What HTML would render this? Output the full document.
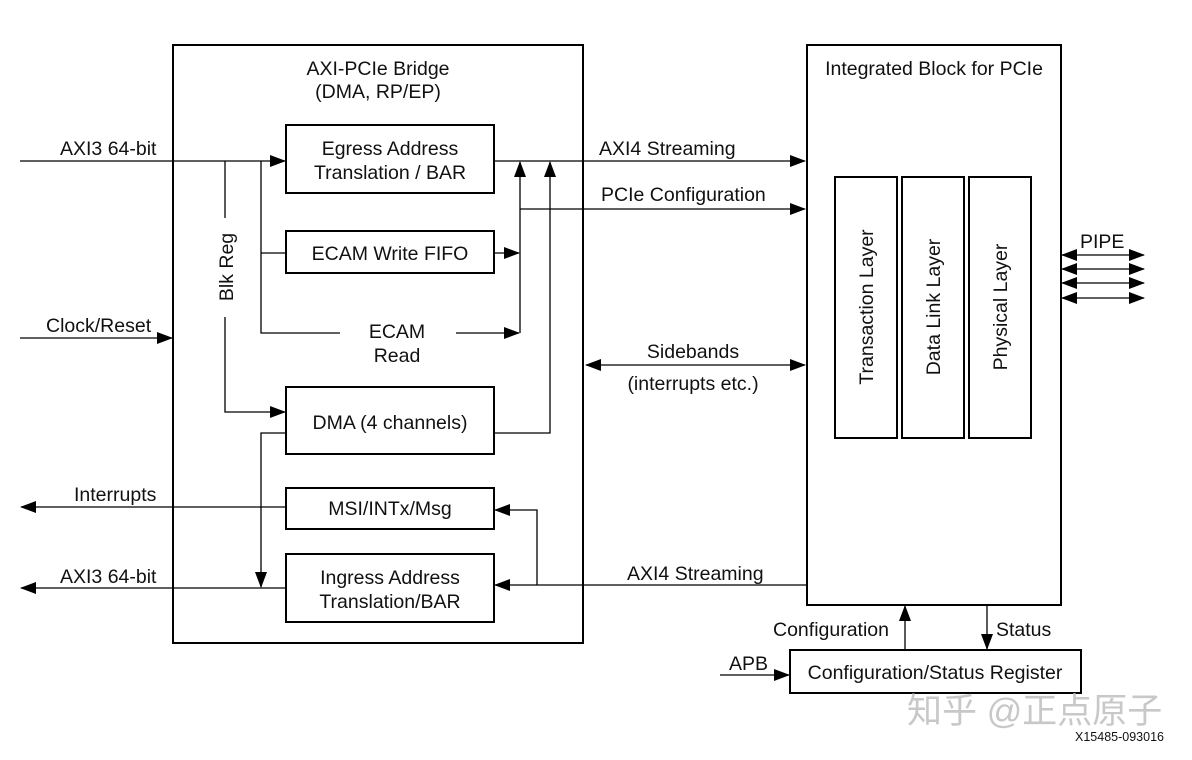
<!DOCTYPE html>
<html><head><meta charset="utf-8"><style>
body{margin:0;background:#fff}
svg text{font-family:"Liberation Sans",Arial,sans-serif;fill:#111}
</style></head><body>
<svg width="1192" height="755" viewBox="0 0 1192 755" xmlns="http://www.w3.org/2000/svg">
<defs>
<marker id="a" markerWidth="16" markerHeight="12" refX="15" refY="6" orient="auto" markerUnits="userSpaceOnUse"><path d="M0,0 L16,6 L0,12 z" fill="#000"/></marker>
<marker id="s" markerWidth="16" markerHeight="12" refX="1" refY="6" orient="auto" markerUnits="userSpaceOnUse"><path d="M16,0 L0,6 L16,12 z" fill="#000"/></marker>
</defs>
<g fill="none" stroke="#000" stroke-width="2">
<rect x="173" y="45" width="410" height="598"/>
<rect x="807" y="45" width="254" height="560"/>
<rect x="835" y="177" width="62" height="261"/>
<rect x="902" y="177" width="62" height="261"/>
<rect x="969" y="177" width="62" height="261"/>
<rect x="286" y="125" width="208" height="68"/>
<rect x="286" y="231" width="208" height="42"/>
<rect x="286" y="387" width="208" height="67"/>
<rect x="286" y="488" width="208" height="41"/>
<rect x="286" y="554" width="208" height="68"/>
<rect x="790" y="650" width="291" height="43"/>
</g>
<g fill="none" stroke="#000" stroke-width="1.3">
<line x1="20" y1="161" x2="285" y2="161" marker-end="url(#a)"/>
<polyline points="225,161 225,218"/>
<polyline points="225,317 225,412 285,412" marker-end="url(#a)"/>
<polyline points="261,161 261,333 340,333"/>
<line x1="261" y1="253" x2="286" y2="253"/>
<line x1="456" y1="333" x2="519" y2="333" marker-end="url(#a)"/>
<line x1="494" y1="253" x2="519" y2="253" marker-end="url(#a)"/>
<line x1="520" y1="333" x2="520" y2="162" marker-end="url(#a)"/>
<polyline points="494,433 550,433 550,162" marker-end="url(#a)"/>
<line x1="494" y1="161" x2="805" y2="161" marker-end="url(#a)"/>
<line x1="520" y1="209" x2="805" y2="209" marker-end="url(#a)"/>
<polyline points="286,433 261,433 261,587" marker-end="url(#a)"/>
<line x1="286" y1="507" x2="21" y2="507" marker-end="url(#a)"/>
<line x1="286" y1="588" x2="21" y2="588" marker-end="url(#a)"/>
<line x1="807" y1="585" x2="495" y2="585" marker-end="url(#a)"/>
<polyline points="537,585 537,510 495,510" marker-end="url(#a)"/>
<line x1="20" y1="338" x2="172" y2="338" marker-end="url(#a)"/>
<line x1="586" y1="365" x2="805" y2="365" marker-start="url(#s)" marker-end="url(#a)"/>
<line x1="1062" y1="255" x2="1144" y2="255" marker-start="url(#s)" marker-end="url(#a)"/>
<line x1="1062" y1="269" x2="1144" y2="269" marker-start="url(#s)" marker-end="url(#a)"/>
<line x1="1062" y1="283" x2="1144" y2="283" marker-start="url(#s)" marker-end="url(#a)"/>
<line x1="1062" y1="298" x2="1144" y2="298" marker-start="url(#s)" marker-end="url(#a)"/>
<line x1="905" y1="650" x2="905" y2="606" marker-end="url(#a)"/>
<line x1="987" y1="605" x2="987" y2="649" marker-end="url(#a)"/>
<line x1="720" y1="675" x2="789" y2="675" marker-end="url(#a)"/>
</g>
<g font-size="19.5">
<text x="378" y="75" text-anchor="middle">AXI-PCIe Bridge</text>
<text x="378" y="98" text-anchor="middle">(DMA, RP/EP)</text>
<text x="934" y="75" text-anchor="middle">Integrated Block for PCIe</text>
<text x="390" y="155" text-anchor="middle">Egress Address</text>
<text x="390" y="179" text-anchor="middle">Translation / BAR</text>
<text x="390" y="260" text-anchor="middle">ECAM Write FIFO</text>
<text x="397" y="338" text-anchor="middle">ECAM</text>
<text x="397" y="362" text-anchor="middle">Read</text>
<text x="390" y="429" text-anchor="middle">DMA (4 channels)</text>
<text x="390" y="515" text-anchor="middle">MSI/INTx/Msg</text>
<text x="390" y="584" text-anchor="middle">Ingress Address</text>
<text x="390" y="608" text-anchor="middle">Translation/BAR</text>
<text x="935" y="679" text-anchor="middle">Configuration/Status Register</text>
<text x="60" y="155">AXI3 64-bit</text>
<text x="46" y="332">Clock/Reset</text>
<text x="74" y="501">Interrupts</text>
<text x="60" y="583">AXI3 64-bit</text>
<text x="599" y="155">AXI4 Streaming</text>
<text x="601" y="201">PCIe Configuration</text>
<text x="693" y="358" text-anchor="middle">Sidebands</text>
<text x="693" y="390" text-anchor="middle">(interrupts etc.)</text>
<text x="627" y="580">AXI4 Streaming</text>
<text x="1080" y="248">PIPE</text>
<text x="773" y="636">Configuration</text>
<text x="996" y="636">Status</text>
<text x="729" y="670">APB</text>
<text transform="translate(233,267) rotate(-90)" text-anchor="middle">Blk Reg</text>
<text transform="translate(873,307) rotate(-90)" text-anchor="middle">Transaction Layer</text>
<text transform="translate(940,307) rotate(-90)" text-anchor="middle">Data Link Layer</text>
<text transform="translate(1007,307) rotate(-90)" text-anchor="middle">Physical Layer</text>
</g>
<text x="907" y="723" font-size="35" style="fill:#c8c8c8;font-family:'Liberation Sans','Noto Sans CJK SC',sans-serif">知乎 @正点原子</text>
<text x="1075" y="741" font-size="12.5">X15485-093016</text>
</svg>
</body></html>
